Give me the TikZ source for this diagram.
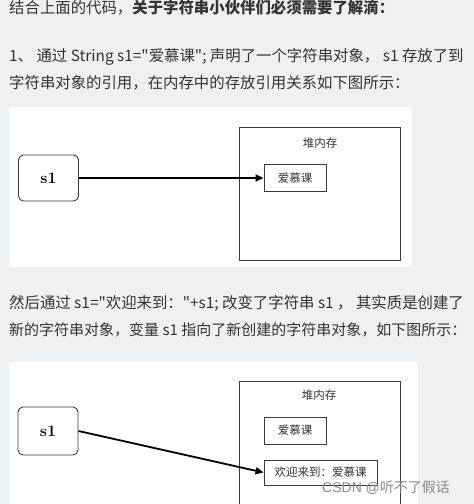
\documentclass[tikz,border=0pt]{standalone}
\usepackage{fontspec}
\newfontfamily\cjk{Noto Sans CJK SC}
\usetikzlibrary{arrows.meta}
\definecolor{bggray}{HTML}{EEF0F1}
\definecolor{txt}{HTML}{333333}
\definecolor{ln}{HTML}{3A3A3A}
\definecolor{wm}{HTML}{8A8A8A}
\tikzset{
  para/.style={anchor=west, inner sep=0pt, text=txt, font=\cjk\fontsize{15.4}{18}\selectfont},
  panel/.style={fill=white, draw=none},
  heapbox/.style={draw=ln, line width=0.9pt},
  varbox/.style={draw=ln, line width=0.9pt, rounded corners=5pt, minimum width=60pt, minimum height=46pt, inner sep=0pt, font=\bfseries\fontsize{16}{18}\selectfont},
  objbox/.style={draw=ln, line width=0.9pt, inner sep=0pt, minimum height=27pt, font=\cjk\fontsize{11.5}{13}\selectfont, text=txt},
  heaplabel/.style={inner sep=0pt, font=\cjk\fontsize{11.5}{13}\selectfont, text=txt},
  refarrow/.style={line width=1.8pt, black, -{Triangle[length=8pt,width=7pt]}, shorten >=0pt}
}
\begin{document}
\begin{tikzpicture}[x=1pt,y=-1pt]
\useasboundingbox (0,0) rectangle (474,504);
\clip (0,0) rectangle (474,504);
\fill[bggray] (0,0) rectangle (474,504);

% text
\node[para] (t1) at (9,8) {结合上面的代码，\textbf{关于字符串小伙伴们必须需要了解滴：}};
\node[para] (t2) at (9,57) {1、 通过 String s1="爱慕课"; 声明了一个字符串对象， s1 存放了到};
\node[para] (t3) at (9,83) {字符串对象的引用，在内存中的存放引用关系如下图所示：};

% panel 1
\fill[panel] (9,107) rectangle (412,267);
\draw[heapbox] (239,127) rectangle (400,260);
\node[heaplabel] (h1) at (320,143) {堆内存};
\node[objbox, minimum width=62pt] (o1) at (295,178) {爱慕课};
\node[varbox] (v1) at (48.5,178) {s1};
\draw[refarrow] (v1.east) -- (o1.west);

\node[para] (t4) at (9,303) {然后通过 s1="欢迎来到："+s1; 改变了字符串 s1 ， 其实质是创建了};
\node[para, font=\cjk\fontsize{15}{18}\selectfont] (t5) at (9,330) {新的字符串对象，变量 s1 指向了新创建的字符串对象，如下图所示：};

% panel 2
\fill[panel] (9,362) rectangle (418,504);
\draw[heapbox] (239,381) -- (239,510) (239,381) -- (400,381) -- (400,510);
\node[heaplabel] (h2) at (319,395) {堆内存};
\node[objbox, minimum width=62pt] (o2) at (295,430.5) {爱慕课};
\node[objbox, minimum width=113pt, minimum height=25pt] (o3) at (320.5,472.5) {欢迎来到：爱慕课};
\node[varbox, minimum width=60pt, minimum height=48pt] (v2) at (48,431) {s1};
\draw[refarrow] (v2.east) -- (o3.west);

% watermark
\node[inner sep=0pt, anchor=west, text=wm, font=\fontspec{Liberation Sans}\fontsize{14}{16}\selectfont] (wmk) at (322,488) {CSDN @\cjk 听不了假话};
\end{tikzpicture}
\end{document}
